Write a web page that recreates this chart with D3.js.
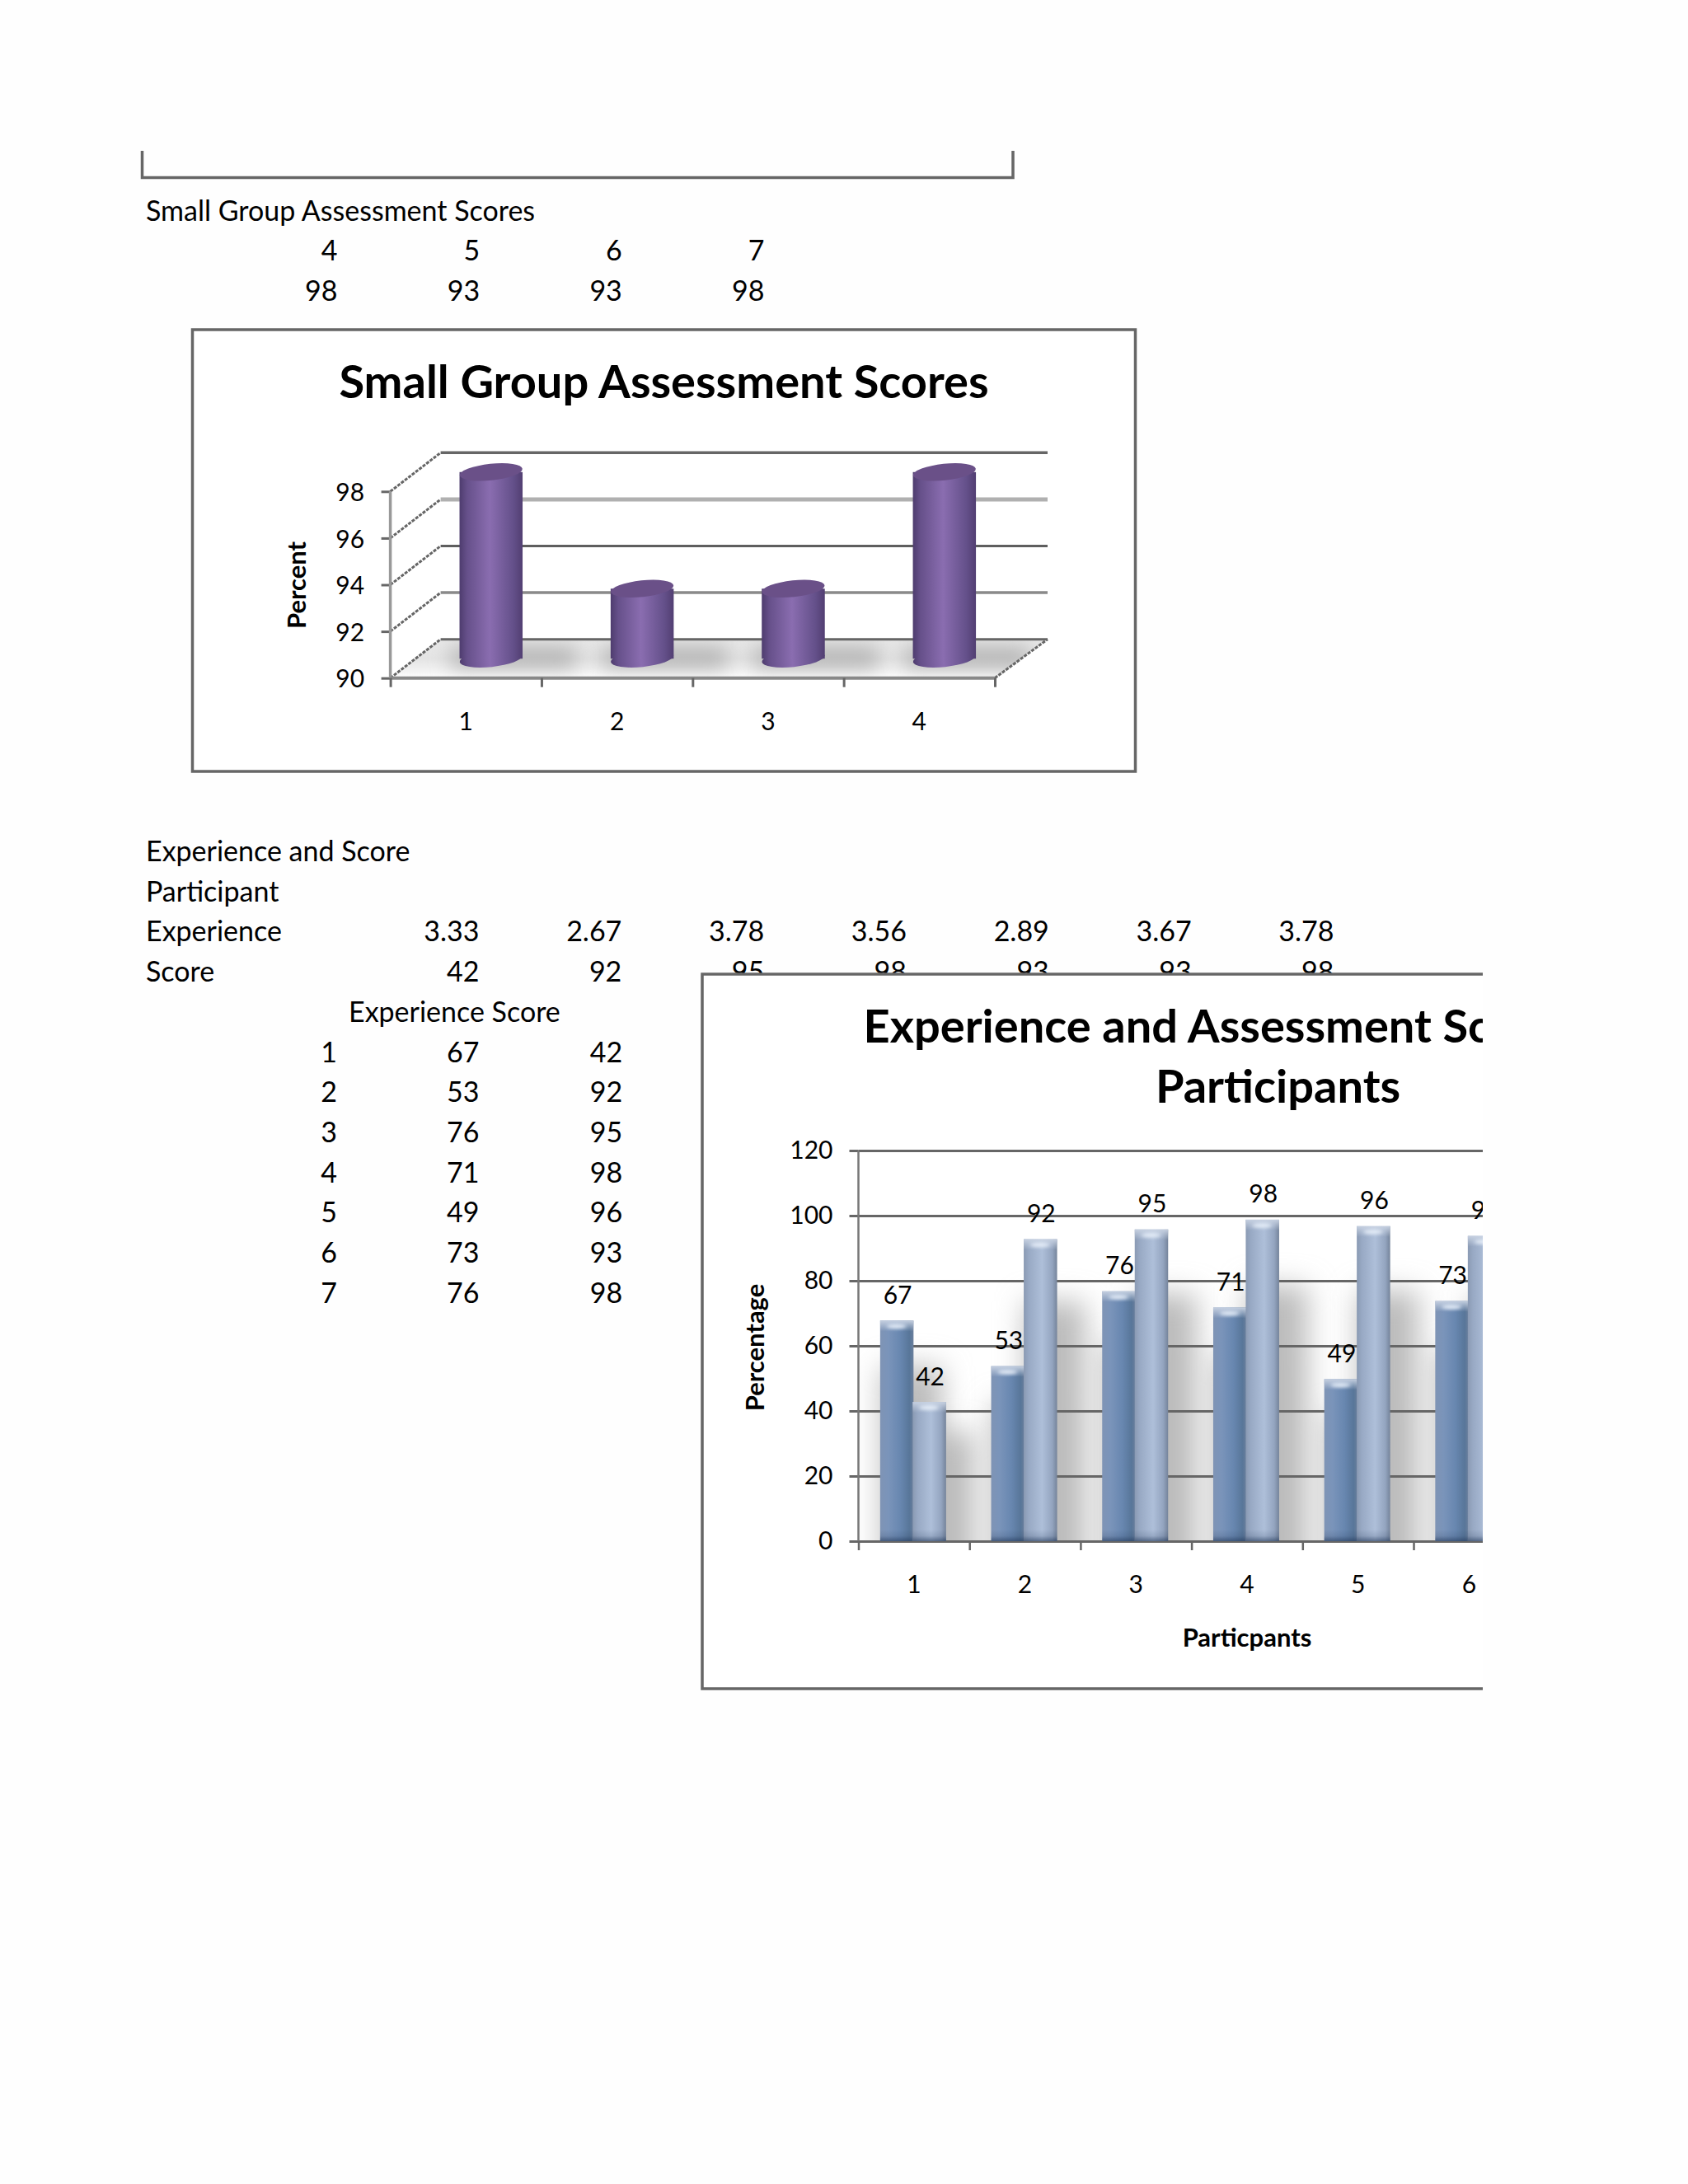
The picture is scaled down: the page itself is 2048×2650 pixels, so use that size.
<!DOCTYPE html>
<html>
<head>
<meta charset="utf-8">
<script src="https://d3js.org/d3.v7.min.js"></script>
<style>
  html, body { margin: 0; padding: 0; background: #fefefe; }
  svg { display: block; }
  text { font-family: Lato, "Open Sans", sans-serif; fill: #000; }
</style>
</head>
<body>
<div id="container"></div>
<script>
// data
var groupParticipants = [4, 5, 6, 7];
var groupScores = [98, 93, 93, 98];
var groupCategories = ["1", "2", "3", "4"];
var groupTicks = [90, 92, 94, 96, 98];

var participants = ["1", "2", "3", "4", "5", "6", "7"];
var experience = [67, 53, 76, 71, 49, 73, 76];
var scores = [42, 92, 95, 98, 96, 93, 98];
var experienceAverages = ["3.33", "2.67", "3.78", "3.56", "2.89", "3.67", "3.78"];
var rowScores = [42, 92, 95, 98, 93, 93, 98];
var percentTicks = [0, 20, 40, 60, 80, 100, 120];

var svg = d3.select("#container").append("svg").attr("width", 2048).attr("height", 2650);
var defs = svg.append("defs");

function gradient(id, stops, vertical) {
    var g = defs.append("linearGradient").attr("id", id)
        .attr("x1", 0).attr("y1", 0).attr("x2", vertical ? 0 : 1).attr("y2", vertical ? 1 : 0);
    stops.forEach(function(s) {
        g.append("stop").attr("offset", s[0]).attr("stop-color", s[1]).attr("stop-opacity", s[2] === undefined ? 1 : s[2]);
    });
}
gradient("purple", [[0, "#4e3c6e"], [.12, "#66508a"], [.48, "#8a6db0"], [.85, "#64508a"], [1, "#523f72"]]);
gradient("floor", [[0, "#e8e8e8"], [.5, "#e4e4e4"], [.85, "#f4f4f4"], [1, "#ffffff"]], true);
gradient("darkBar", [[0, "#7f94b5"], [.25, "#7a94ba"], [.6, "#6887b0"], [.88, "#587699"], [1, "#6b7f9c"]]);
gradient("lightBar", [[0, "#8a9ab3"], [.15, "#98a9c4"], [.55, "#aebfd9"], [.85, "#94a5c0"], [1, "#75849b"]]);
gradient("barFoot", [[0, "#1f3557", 0], [.55, "#1f3557", .15], [1, "#1f3557", .6]], true);
gradient("barCap", [[0, "#c8d2e2", .95], [1, "#c8d2e2", 0]], true);

function blur(id, dev) {
    defs.append("filter").attr("id", id)
        .attr("x", "-150%").attr("width", "400%").attr("y", "-150%").attr("height", "400%")
        .append("feGaussianBlur").attr("stdDeviation", dev);
}
blur("soft", 17);
blur("floorSoft", 12);
blur("glow", 2.2);
defs.append("clipPath").attr("id", "pageEdge").append("rect").attr("x", 0).attr("y", 0).attr("width", 1799).attr("height", 2650);

// left over corner of the chart from the previous page
svg.append("path").attr("d", "M172.5,183V215.5H1229V183").attr("fill", "none").attr("stroke", "#666").attr("stroke-width", 3.5);

// spreadsheet cells
function cell(x, y, t, anchor) {
    svg.append("text").attr("x", x).attr("y", y).attr("text-anchor", anchor || "end")
        .attr("font-size", 34).text(t);
}
var rowHeight = 48.7, rowTop = 1045;
cell(177, 268, "Small Group Assessment Scores", "start");
var groupCols = d3.scaleLinear().domain([0, 3]).range([409.5, 927.5]);
groupParticipants.forEach(function(d, i) { cell(groupCols(i), 316, d); });
groupScores.forEach(function(d, i) { cell(groupCols(i), 365, d); });

cell(177, rowTop, "Experience and Score", "start");
cell(177, rowTop + rowHeight, "Participant", "start");
cell(177, rowTop + rowHeight * 2, "Experience", "start");
cell(177, rowTop + rowHeight * 3, "Score", "start");
var rowCols = d3.scaleLinear().domain([0, 6]).range([581.5, 1618.5]);
experienceAverages.forEach(function(d, i) { cell(rowCols(i), rowTop + rowHeight * 2, d); });
rowScores.forEach(function(d, i) { cell(rowCols(i), rowTop + rowHeight * 3, d); });
cell(423, rowTop + rowHeight * 4, "Experience Score", "start");
participants.forEach(function(d, i) {
    var y = rowTop + rowHeight * (5 + i);
    cell(409, y, d);
    cell(581.5, y, experience[i]);
    cell(755.3, y, scores[i]);
});

function styleAxis(g, size) {
    g.selectAll("text").attr("font-size", size).attr("fill", "#000");
    g.select(".domain").remove();
    g.selectAll("line").attr("stroke", "#666").attr("stroke-width", 3);
}

// ---------- first chart: cylinders
var c1 = svg.append("g");
c1.append("rect").attr("x", 233.5).attr("y", 400).attr("width", 1144).attr("height", 536)
    .attr("fill", "#fff").attr("stroke", "#666").attr("stroke-width", 3.5);
c1.append("text").attr("x", 805.5).attr("y", 483).attr("text-anchor", "middle")
    .attr("font-size", 56).attr("font-weight", 700).text("Small Group Assessment Scores");

var depthX = 61, depthY = -47;
var y1 = d3.scaleLinear().domain([90, 98]).range([822.7, 596.3]);
var x1 = d3.scaleBand().domain(groupCategories).range([473.6, 1207]);
var x1Edges = d3.scaleLinear().domain([0, 4]).range([473.6, 1207]);

var cylWidth = 76.5, cylTilt = -6, cylRy = 10;
function cylX(i) { return x1(groupCategories[i]) + x1.bandwidth() / 2 + depthX / 2 - cylWidth / 2; }

// floor
var floorPoints = [
    [x1Edges(0), y1(90)], [x1Edges(4), y1(90)],
    [x1Edges(4) + depthX + 2, y1(90) + depthY], [x1Edges(0) + depthX, y1(90) + depthY]
].join(" ");
defs.append("clipPath").attr("id", "floorClip").append("polygon").attr("points", floorPoints);
c1.append("polygon").attr("points", floorPoints).attr("fill", "url(#floor)");
var floorShade = c1.append("g").attr("clip-path", "url(#floorClip)");
floorShade.selectAll("rect").data(groupScores).enter().append("rect")
    .attr("x", function(d, i) { return cylX(i) - 10; })
    .attr("y", y1(90) + depthY + 10)
    .attr("width", cylWidth + 75)
    .attr("height", 24)
    .attr("fill", "#b0b0b0")
    .attr("filter", "url(#floorSoft)");

// back wall and side wall lines
var gridShades = { 90: "#666", 92: "#8a8a8a", 94: "#5e5e5e", 96: "#b0b0b0", 98: "#666" };
var gridWidths = { 90: 3, 92: 3.5, 94: 3, 96: 5, 98: 3.5 };
c1.selectAll(".back").data(groupTicks).enter().append("line")
    .attr("x1", x1Edges(0) + depthX).attr("x2", x1Edges(4) + depthX + 3)
    .attr("y1", function(d) { return y1(d) + depthY; }).attr("y2", function(d) { return y1(d) + depthY; })
    .attr("stroke", function(d) { return gridShades[d]; })
    .attr("stroke-width", function(d) { return gridWidths[d]; });
c1.selectAll(".side").data(groupTicks).enter().append("line")
    .attr("x1", x1Edges(0)).attr("x2", x1Edges(0) + depthX)
    .attr("y1", function(d) { return y1(d); }).attr("y2", function(d) { return y1(d) + depthY; })
    .attr("stroke", "#666").attr("stroke-width", 3).attr("stroke-dasharray", "4 1.5");
c1.append("line").attr("x1", x1Edges(4)).attr("x2", x1Edges(4) + depthX + 3)
    .attr("y1", y1(90)).attr("y2", y1(90) + depthY)
    .attr("stroke", "#666").attr("stroke-width", 3).attr("stroke-dasharray", "4 1.5");

// axes
var c1Left = c1.append("g").attr("transform", "translate(" + x1Edges(0) + ",0)")
    .call(d3.axisLeft(y1).tickValues(groupTicks).tickSize(11).tickPadding(20.5));
styleAxis(c1Left, 30);
c1Left.selectAll("text").attr("dy", ".37em");
c1.append("line").attr("x1", x1Edges(0)).attr("x2", x1Edges(0)).attr("y1", y1(98)).attr("y2", y1(90))
    .attr("stroke", "#999").attr("stroke-width", 3.5);
c1.append("line").attr("x1", x1Edges(0)).attr("x2", x1Edges(4)).attr("y1", y1(90)).attr("y2", y1(90))
    .attr("stroke", "#888").attr("stroke-width", 4);
var c1Ticks = c1.append("g").attr("transform", "translate(0," + y1(90) + ")")
    .call(d3.axisBottom(x1Edges).tickValues([0, 1, 2, 3, 4]).tickFormat("").tickSize(11));
styleAxis(c1Ticks, 30);
var c1Labels = c1.append("g").attr("transform", "translate(0," + y1(90) + ")")
    .call(d3.axisBottom(x1).tickSize(0).tickPadding(42));
styleAxis(c1Labels, 30);

// cylinders
var cyl = c1.selectAll(".cyl").data(groupScores).enter().append("g");
cyl.append("ellipse")
    .attr("cx", function(d, i) { return cylX(i) + cylWidth / 2; })
    .attr("cy", y1(90) + depthY / 2)
    .attr("rx", cylWidth / 2).attr("ry", cylRy)
    .attr("transform", function(d, i) { return "rotate(" + cylTilt + " " + (cylX(i) + cylWidth / 2) + " " + (y1(90) + depthY / 2) + ")"; })
    .attr("fill", "url(#purple)");
cyl.append("rect")
    .attr("x", function(d, i) { return cylX(i); })
    .attr("y", function(d) { return y1(d) + depthY / 2; })
    .attr("width", cylWidth)
    .attr("height", function(d) { return y1(90) - y1(d); })
    .attr("fill", "url(#purple)");
cyl.append("ellipse")
    .attr("cx", function(d, i) { return cylX(i) + cylWidth / 2; })
    .attr("cy", function(d) { return y1(d) + depthY / 2; })
    .attr("rx", cylWidth / 2).attr("ry", cylRy)
    .attr("transform", function(d, i) { return "rotate(" + cylTilt + " " + (cylX(i) + cylWidth / 2) + " " + (y1(d) + depthY / 2) + ")"; })
    .attr("fill", "#6a5088");

c1.append("text").attr("transform", "translate(371,710) rotate(-90)").attr("text-anchor", "middle")
    .attr("font-size", 31).attr("font-weight", 700).text("Percent");

// ---------- second chart: grouped bars, cut off by the page edge
var c2 = svg.append("g").attr("clip-path", "url(#pageEdge)");
c2.append("rect").attr("x", 852).attr("y", 1182).attr("width", 1200).attr("height", 867)
    .attr("fill", "#fff").attr("stroke", "#666").attr("stroke-width", 3.5);
c2.append("text").attr("x", 1047.5).attr("y", 1265).attr("font-size", 56).attr("font-weight", 700)
    .text("Experience and Assessment Scores");
c2.append("text").attr("x", 1550.5).attr("y", 1337.5).attr("text-anchor", "middle")
    .attr("font-size", 56).attr("font-weight", 700).text("Participants");

var x2 = d3.scaleBand().domain(participants).range([1041.5, 1041.5 + 134.7 * 7]);
var x2Edges = d3.scaleLinear().domain([0, 7]).range([1041.5, 1041.5 + 134.7 * 7]);
var y2 = d3.scaleLinear().domain([0, 120]).range([1870, 1396]);
var barWidth = 39.5, barNudge = -1.5;

var series = [
    { values: experience, off: -barWidth, fill: "url(#darkBar)" },
    { values: scores, off: 0, fill: "url(#lightBar)" }
];

// soft shadow behind the bars, kept inside the plot
defs.append("clipPath").attr("id", "plotClip").append("rect")
    .attr("x", x2Edges(0)).attr("y", y2(120)).attr("width", 1000).attr("height", y2(0) - y2(120));
var shadows = c2.append("g").attr("clip-path", "url(#plotClip)").append("g");
series.forEach(function(s) {
    shadows.selectAll(null).data(s.values).enter().append("rect")
        .attr("x", function(d, i) { return x2(participants[i]) + x2.bandwidth() / 2 + s.off; })
        .attr("y", function(d) { return y2(d * .8); })
        .attr("width", barWidth + 34)
        .attr("height", function(d) { return y2(0) - y2(d * .8) + 60; })
        .attr("fill", "#bcbcbc")
        .attr("filter", "url(#soft)");
});

var grid = c2.append("g").attr("transform", "translate(" + x2Edges(0) + ",0)")
    .call(d3.axisLeft(y2).tickValues(percentTicks).tickSize(-943).tickFormat(""));
grid.select(".domain").remove();
grid.selectAll("line").attr("stroke", "#666").attr("stroke-width", 3);

var left2 = c2.append("g").attr("transform", "translate(" + x2Edges(0) + ",0)")
    .call(d3.axisLeft(y2).tickValues(percentTicks).tickSize(11).tickPadding(20));
styleAxis(left2, 30);
c2.append("line").attr("x1", x2Edges(0)).attr("x2", x2Edges(0)).attr("y1", y2(120)).attr("y2", y2(0))
    .attr("stroke", "#777").attr("stroke-width", 2.5);
var ticks2 = c2.append("g").attr("transform", "translate(0," + y2(0) + ")")
    .call(d3.axisBottom(x2Edges).tickValues(d3.range(8)).tickFormat("").tickSize(11));
styleAxis(ticks2, 30);
ticks2.selectAll("line").attr("stroke-width", 2.5);
var labels2 = c2.append("g").attr("transform", "translate(0," + y2(0) + ")")
    .call(d3.axisBottom(x2).tickSize(0).tickPadding(42));
styleAxis(labels2, 30);

series.forEach(function(s) {
    var bar = c2.selectAll(null).data(s.values).enter().append("g")
        .attr("transform", function(d, i) { return "translate(" + (x2(participants[i]) + x2.bandwidth() / 2 + s.off + barNudge) + ",0)"; });
    bar.append("rect")
        .attr("y", function(d) { return y2(d) - 3; })
        .attr("width", barWidth + 1)
        .attr("height", function(d) { return y2(0) - y2(d) + 3; })
        .attr("fill", s.fill);
    bar.append("rect")
        .attr("y", y2(0) - 14)
        .attr("width", barWidth + 1)
        .attr("height", 14)
        .attr("fill", "url(#barFoot)");
    bar.append("rect")
        .attr("y", function(d) { return y2(d) - 3; })
        .attr("width", barWidth + 1)
        .attr("height", 13)
        .attr("fill", "url(#barCap)");
    bar.append("ellipse")
        .attr("cx", barWidth / 2)
        .attr("cy", function(d) { return y2(d) + 4; })
        .attr("rx", barWidth * .3).attr("ry", 2.5)
        .attr("fill", "#e8f0fa").attr("filter", "url(#glow)");
});
series.forEach(function(s) {
    c2.selectAll(null).data(s.values).enter().append("text")
        .attr("x", function(d, i) { return x2(participants[i]) + x2.bandwidth() / 2 + s.off + barWidth / 2; })
        .attr("y", function(d) { return y2(d) - 23.5; })
        .attr("text-anchor", "middle").attr("font-size", 30)
        .text(function(d) { return d; });
});

c2.append("text").attr("transform", "translate(927,1635) rotate(-90)").attr("text-anchor", "middle")
    .attr("font-size", 31).attr("font-weight", 700).text("Percentage");
c2.append("text").attr("x", 1513).attr("y", 1998).attr("text-anchor", "middle")
    .attr("font-size", 31).attr("font-weight", 700).text("Particpants");
</script>
</body>
</html>
